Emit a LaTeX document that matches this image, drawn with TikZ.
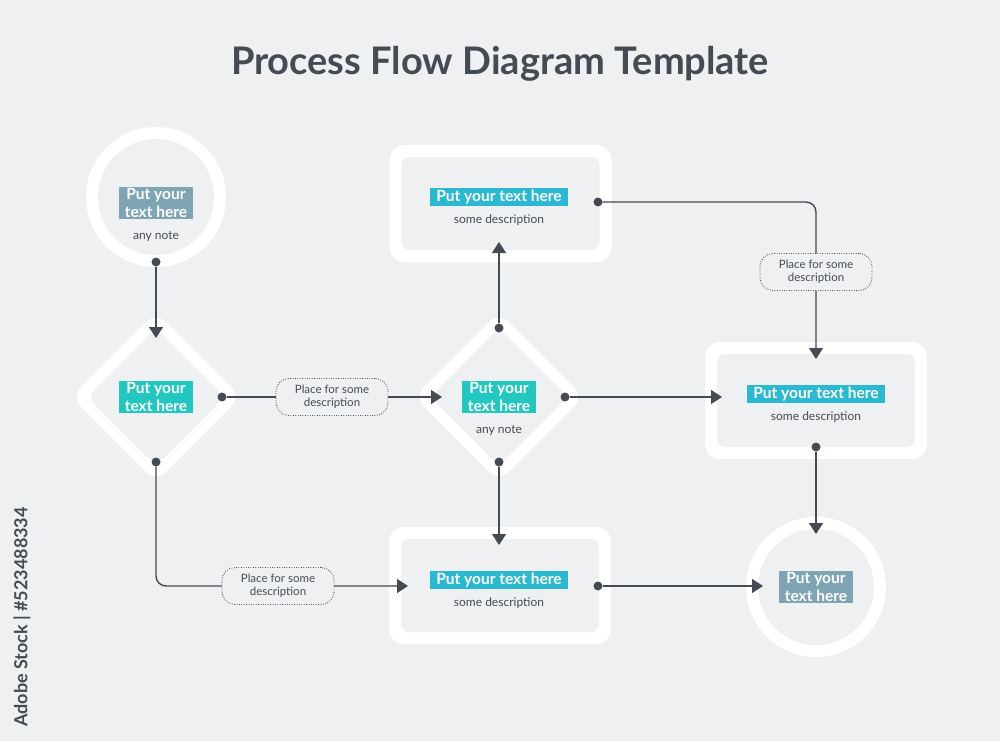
\documentclass[tikz,border=0pt]{standalone}
\usepackage{fontspec}
\setmainfont{Lato}
\usetikzlibrary{shapes.geometric,arrows.meta}
\definecolor{bg}{HTML}{EEF0F2}
\definecolor{dk}{HTML}{454B52}
\definecolor{teal}{HTML}{22C7C0}
\definecolor{cy}{HTML}{2BB8D2}
\definecolor{gb}{HTML}{7FA4B4}
\begin{document}
\begin{tikzpicture}[x=1pt,y=-1pt,
  ring/.style={circle,fill=white,minimum size=140pt,inner sep=0pt},
  ringin/.style={circle,fill=bg,minimum size=116pt,inner sep=0pt},
  dia/.style={diamond,fill=white,minimum size=#1,inner sep=0pt,rounded corners=14pt},
  diain/.style={diamond,fill=bg,minimum size=#1,inner sep=0pt,rounded corners=10pt},
  box/.style={rectangle,fill=white,rounded corners=15pt,minimum width=222pt,minimum height=117pt},
  boxin/.style={rectangle,fill=bg,rounded corners=8pt,minimum width=198pt,minimum height=93pt},
  lab/.style={fill=#1,text=white,font=\fontsize{15.5}{17.5}\selectfont\bfseries,inner xsep=6pt,inner ysep=2pt,align=center},
  note/.style={text=dk,font=\fontsize{12}{14}\selectfont},
  pill/.style={draw=dk,dash pattern=on 0.8pt off 1.6pt,line width=0.9pt,fill=bg,rounded corners=13pt,minimum width=112pt,minimum height=37pt,align=center,font=\fontsize{11.5}{13}\selectfont,text=dk,inner sep=1pt},
  con/.style={draw=dk,line width=1.4pt,-{Triangle[length=11pt,width=14pt]}},
  dot/.style={circle,fill=dk,minimum size=9pt,inner sep=0pt}]
\fill[bg] (0,0) rectangle (1000,741);
\node[font=\fontsize{38}{44}\selectfont\bfseries,text=dk] (title) at (500,64) {Process Flow Diagram Template};
\node[rotate=90,font=\fontsize{18}{20}\selectfont\bfseries,text=dk,anchor=center] (stock) at (22,617) {Adobe Stock | \#523488334};
% shapes
\node[ring] (c1) at (156,197) {};
\node[ringin] at (156,197) {};
\node[dia=170pt] (d1) at (156,397) {};
\node[diain=138pt] at (156,397) {};
\node[dia=170pt] (d2) at (499,397) {};
\node[diain=138pt] at (499,397) {};
\node[box] (r1) at (500.5,203.5) {};
\node[boxin] at (500.5,203.5) {};
\node[box] (r2) at (816,400.5) {};
\node[boxin] at (816,400.5) {};
\node[box] (r3) at (500,585.5) {};
\node[boxin] at (500,585.5) {};
\node[ring] (c2) at (816,587) {};
\node[ringin] at (816,587) {};
% labels
\node[lab=gb] (l1) at (156,203) {Put your\\text here};
\node[note] (n1) at (156,237) {any note};
\node[lab=teal] (l2) at (156,397) {Put your\\text here};
\node[lab=teal] (l3) at (499,397) {Put your\\text here};
\node[note] (n3) at (499,430) {any note};
\node[lab=cy] (l4) at (499,197) {Put your text here};
\node[note] (n4) at (499,220) {some description};
\node[lab=cy] (l5) at (816,394) {Put your text here};
\node[note] (n5) at (816,417) {some description};
\node[lab=cy] (l6) at (499,580) {Put your text here};
\node[note] (n6) at (499,603) {some description};
\node[lab=gb] (l7) at (816,587) {Put your\\text here};
% dots
\node[dot] (p1) at (156,262) {};
\node[dot] (p2) at (222,397) {};
\node[dot] (p3) at (499,328) {};
\node[dot] (p4) at (565,397) {};
\node[dot] (p5) at (598,202) {};
\node[dot] (p6) at (156,462) {};
\node[dot] (p7) at (499,462) {};
\node[dot] (p8) at (598,586) {};
\node[dot] (p9) at (816,447) {};
% targets
\coordinate (t1) at (156,338);
\coordinate (t2) at (442,397);
\coordinate (t3) at (499,242);
\coordinate (t4) at (722,397);
\coordinate (t5) at (816,359);
\coordinate (t6) at (408,586);
\coordinate (t7) at (499,545);
\coordinate (t8) at (763,586);
\coordinate (t9) at (816,534);
% connectors
\path[con] (p1) -- (t1);
\path[con] (p2) -- (t2);
\path[con] (p3) -- (t3);
\path[con] (p4) -- (t4);
\path[con,rounded corners=10pt] (p5) -- (816,202) -- (t5);
\path[con,rounded corners=10pt] (p6) -- (156,586) -- (t6);
\path[con] (p7) -- (t7);
\path[con] (p8) -- (t8);
\path[con] (p9) -- (t9);
% pills
\node[pill] (q1) at (332,397) {Place for some\\description};
\node[pill] (q2) at (816,272) {Place for some\\description};
\node[pill] (q3) at (278,586) {Place for some\\description};
\end{tikzpicture}
\end{document}
